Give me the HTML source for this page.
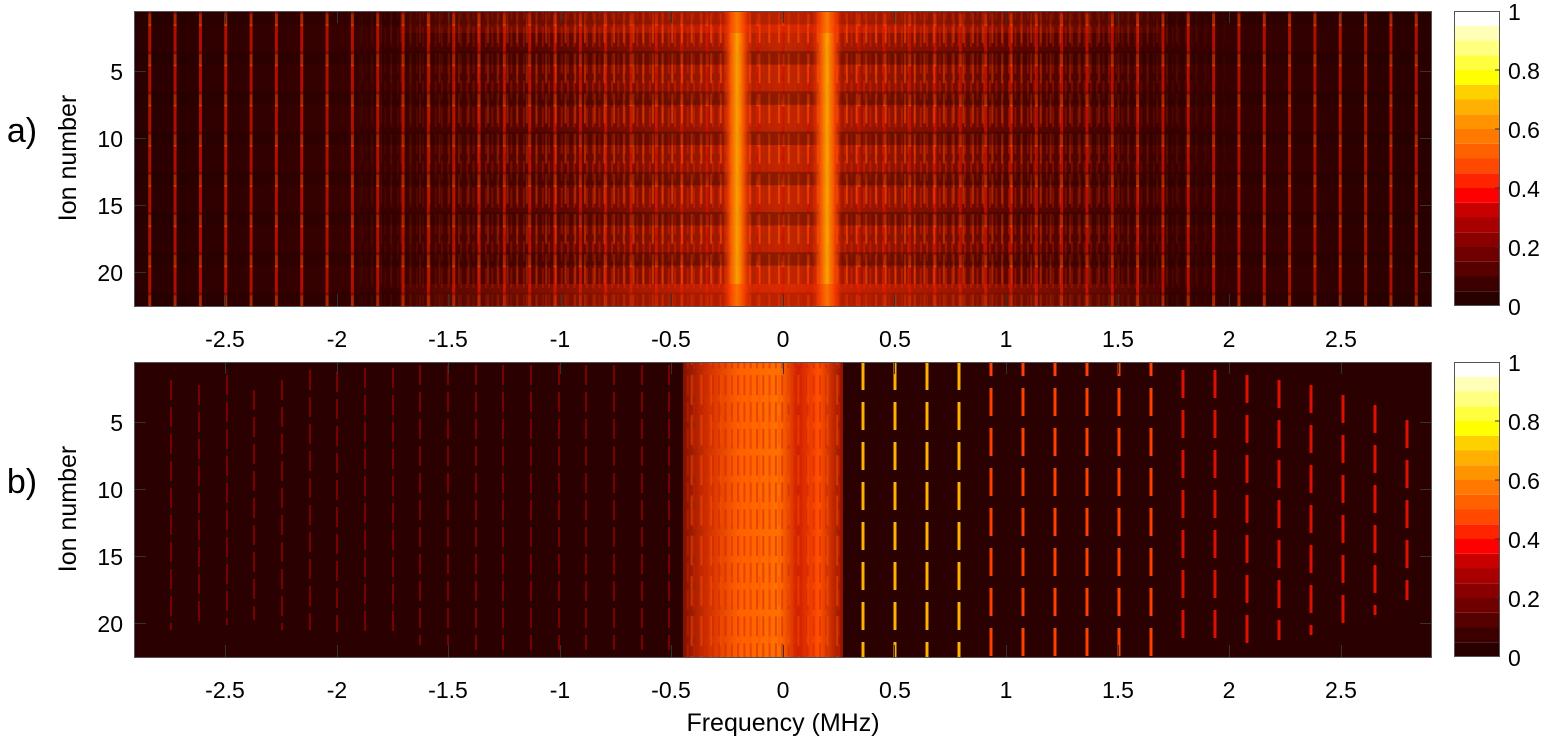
<!DOCTYPE html><html><head><style>
body{margin:0;background:#fff;width:1549px;height:749px;overflow:hidden}
svg{position:absolute;left:0;top:0}
text{font-family:"Liberation Sans",sans-serif;font-size:23px;fill:#000}
</style></head><body>
<svg width="1549" height="749" viewBox="0 0 1549 749" xmlns="http://www.w3.org/2000/svg">
<defs>
<linearGradient id="cenA" x1="134" x2="1432" y1="0" y2="0" gradientUnits="userSpaceOnUse">
<stop offset="0" stop-color="#2a0000"/><stop offset="0.2" stop-color="#3a0000"/><stop offset="0.33" stop-color="#600600"/><stop offset="0.45" stop-color="#a01800"/><stop offset="0.5" stop-color="#c02800"/><stop offset="0.55" stop-color="#a01800"/><stop offset="0.67" stop-color="#600600"/><stop offset="0.8" stop-color="#3a0000"/><stop offset="1" stop-color="#2a0000"/>
</linearGradient>
<linearGradient id="mk" x1="134" x2="1432" y1="0" y2="0" gradientUnits="userSpaceOnUse">
<stop offset="0.15" stop-color="#000"/><stop offset="0.3" stop-color="#888"/><stop offset="0.45" stop-color="#fff"/><stop offset="0.55" stop-color="#fff"/><stop offset="0.7" stop-color="#888"/><stop offset="0.85" stop-color="#000"/>
</linearGradient>
<mask id="mA" maskUnits="userSpaceOnUse" x="134" y="0" width="1298" height="749"><rect x="134" y="0" width="1298" height="749" fill="url(#mk)"/></mask>
<pattern id="comb" patternUnits="userSpaceOnUse" x="781.5" y="0" width="25.33" height="40.2">
<rect x="0" y="0" width="3" height="40.2" fill="#c81000"/><rect x="0" y="14" width="3" height="12" fill="#ff4000"/></pattern>
<pattern id="fine1" patternUnits="userSpaceOnUse" x="0" y="0" width="6.3" height="26.8">
<rect x="0" y="0" width="2" height="20" fill="#d02000"/></pattern>
<pattern id="fine2" patternUnits="userSpaceOnUse" x="2" y="13" width="9.7" height="40.2">
<rect x="0" y="0" width="2" height="30" fill="#ff5000"/></pattern>
<pattern id="rows" patternUnits="userSpaceOnUse" x="0" y="11" width="50" height="40.2">
<rect x="0" y="0" width="50" height="13.4" fill="#200000" opacity="0.3"/></pattern>
<linearGradient id="band" x1="0" x2="1" y1="0" y2="0">
<stop offset="0" stop-color="#ff3000" stop-opacity="0"/><stop offset="0.3" stop-color="#ff6000"/><stop offset="0.5" stop-color="#ffb000"/><stop offset="0.7" stop-color="#ff6000"/><stop offset="1" stop-color="#ff3000" stop-opacity="0"/></linearGradient>
<linearGradient id="cenB" x1="683" x2="843" y1="0" y2="0" gradientUnits="userSpaceOnUse">
<stop offset="0" stop-color="#801000"/><stop offset="0.15" stop-color="#d03000"/><stop offset="0.35" stop-color="#ff6000"/><stop offset="0.6" stop-color="#ff7000"/><stop offset="0.72" stop-color="#d02000"/><stop offset="0.85" stop-color="#ff5000"/><stop offset="1" stop-color="#901000"/></linearGradient>
<g id="cbar">
<rect x="1454" y="291.25" width="46" height="14.75" fill="#280000"/>
<rect x="1454" y="276.5" width="46" height="14.75" fill="#3c0000"/>
<rect x="1454" y="261.75" width="46" height="14.75" fill="#560000"/>
<rect x="1454" y="247" width="46" height="14.75" fill="#700000"/>
<rect x="1454" y="232.25" width="46" height="14.75" fill="#8a0000"/>
<rect x="1454" y="217.5" width="46" height="14.75" fill="#a80000"/>
<rect x="1454" y="202.75" width="46" height="14.75" fill="#c80000"/>
<rect x="1454" y="188" width="46" height="14.75" fill="#ff0000"/>
<rect x="1454" y="173.25" width="46" height="14.75" fill="#ff2400"/>
<rect x="1454" y="158.5" width="46" height="14.75" fill="#ff4800"/>
<rect x="1454" y="143.75" width="46" height="14.75" fill="#ff6000"/>
<rect x="1454" y="129" width="46" height="14.75" fill="#ff7800"/>
<rect x="1454" y="114.25" width="46" height="14.75" fill="#ff9400"/>
<rect x="1454" y="99.5" width="46" height="14.75" fill="#ffb000"/>
<rect x="1454" y="84.75" width="46" height="14.75" fill="#ffd000"/>
<rect x="1454" y="70" width="46" height="14.75" fill="#ffff00"/>
<rect x="1454" y="55.25" width="46" height="14.75" fill="#ffff40"/>
<rect x="1454" y="40.5" width="46" height="14.75" fill="#ffff80"/>
<rect x="1454" y="25.75" width="46" height="14.75" fill="#ffffb8"/>
<rect x="1454" y="11" width="46" height="14.75" fill="#ffffff"/>
<rect x="1454.5" y="11.5" width="45" height="294" fill="none" stroke="#555"/>
<path d="M1495 70h5M1495 129h5M1495 188h5M1495 247h5" stroke="#333"/>
<text x="1508" y="20">1</text><text x="1508" y="79">0.8</text><text x="1508" y="138">0.6</text><text x="1508" y="197">0.4</text><text x="1508" y="256">0.2</text><text x="1508" y="315">0</text>
</g>
<g id="ax">
<path d="M225.5 306v-12M337.5 306v-12M448.5 306v-12M560.5 306v-12M671.5 306v-12M783.5 306v-12M894.5 306v-12M1006.5 306v-12M1118.5 306v-12M1229.5 306v-12M1341.5 306v-12M225.5 11v12M337.5 11v12M448.5 11v12M560.5 11v12M671.5 11v12M783.5 11v12M894.5 11v12M1006.5 11v12M1118.5 11v12M1229.5 11v12M1341.5 11v12M134 71.5h12M134 138.5h12M134 205.5h12M134 272.5h12M1432 71.5h-12M1432 138.5h-12M1432 205.5h-12M1432 272.5h-12" stroke="#333" stroke-width="1"/>
<rect x="134.5" y="11.5" width="1297" height="295" fill="none" stroke="#555"/>
<g text-anchor="middle">
<text x="225" y="347">-2.5</text><text x="337" y="347">-2</text><text x="448" y="347">-1.5</text><text x="560" y="347">-1</text><text x="671" y="347">-0.5</text><text x="783" y="347">0</text><text x="895" y="347">0.5</text><text x="1006" y="347">1</text><text x="1118" y="347">1.5</text><text x="1229" y="347">2</text><text x="1341" y="347">2.5</text>
</g>
<g text-anchor="end"><text x="123" y="80">5</text><text x="123" y="147">10</text><text x="123" y="214">15</text><text x="123" y="281">20</text></g>
<text x="0" y="0" transform="translate(76 158) rotate(-90)" text-anchor="middle" style="font-size:25px">Ion number</text>
</g>
</defs>

<!-- panel a -->
<rect x="134" y="11" width="1298" height="295" fill="url(#cenA)"/>
<rect x="134" y="11" width="1298" height="295" fill="url(#comb)" opacity="0.85"/>
<g mask="url(#mA)">
<rect x="134" y="11" width="1298" height="295" fill="url(#fine1)" opacity="0.7"/>
<rect x="134" y="11" width="1298" height="295" fill="url(#fine2)" opacity="0.65"/>
</g>
<rect x="134" y="11" width="1298" height="295" fill="url(#rows)"/>
<rect x="722" y="11" width="30" height="295" fill="url(#band)" opacity="0.9"/>
<rect x="812" y="11" width="30" height="295" fill="url(#band)" opacity="0.9"/>
<rect x="400" y="11" width="760" height="22" fill="#ff3000" opacity="0.35" mask="url(#mA)"/>
<rect x="400" y="284" width="760" height="22" fill="#ff3000" opacity="0.4" mask="url(#mA)"/>
<use href="#ax"/>
<use href="#cbar"/>

<!-- panel b -->
<rect x="134" y="362" width="1298" height="295" fill="#2a0000"/>
<g stroke="#7a0000" stroke-width="2" stroke-dasharray="20 7">
<path d="M171 380v250M199 385v240M227 375v250M254 390v230M282 380v250M310 370v260M337 372v260M365 368v270M393 368v270M420 365v280M448 365v280M476 365v285M503 365v285M531 365v285M559 365v285M586 365v285M614 365v285M642 365v285M669 365v285"/>
</g>
<rect x="683" y="362" width="160" height="295" fill="url(#cenB)"/>
<rect x="683" y="362" width="160" height="295" fill="url(#fine1)" opacity="0.5"/>
<rect x="683" y="362" width="160" height="295" fill="url(#fine2)" opacity="0.5"/>
<g stroke-width="3" stroke-dasharray="28 12">
<path d="M863 362v295M895 362v295M927 362v295M959 362v295" stroke="#ffb000"/>
<path d="M991 362v295M1023 362v295M1055 362v295M1087 362v295M1119 362v295M1151 362v295" stroke="#ff4000" stroke-dashoffset="14"/>
<path d="M1183 370v280M1215 370v280M1247 375v270M1279 380v260M1311 385v250M1343 395v230M1375 405v210M1407 420v180" stroke="#e01000"/>
</g>
<g transform="translate(0 351)"><use href="#ax"/><use href="#cbar"/></g>

<text x="22" y="142" text-anchor="middle" style="font-size:34px">a)</text>
<text x="22" y="493" text-anchor="middle" style="font-size:34px">b)</text>
<text x="783" y="731" text-anchor="middle" style="font-size:25px">Frequency (MHz)</text>
</svg>
</body></html>
